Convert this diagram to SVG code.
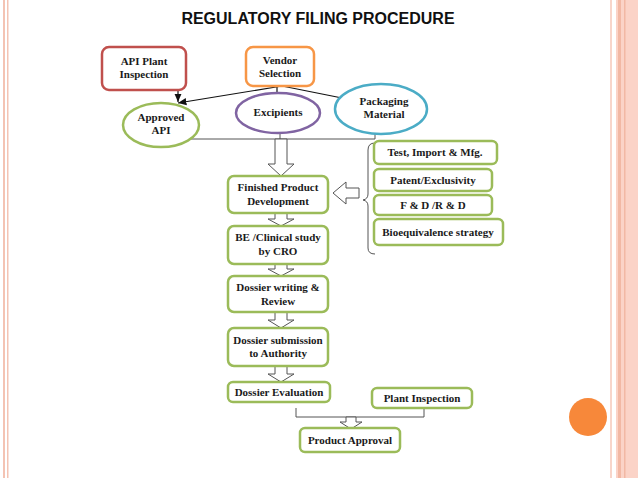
<svg xmlns="http://www.w3.org/2000/svg" width="638" height="478" viewBox="0 0 638 478">
<style>
.t{font-family:"Liberation Serif",serif;font-weight:bold;font-size:11px;fill:#1a1a1a;text-anchor:middle}
.g{fill:#fff;stroke:#9bbb59;stroke-width:2.5}
.ba{fill:#fff;stroke:#555;stroke-width:1}
.ln{fill:none;stroke:#555;stroke-width:1}
.ar{fill:none;stroke:#111;stroke-width:1.2;marker-end:url(#ah)}
</style>
<defs><marker id="ah" markerWidth="8" markerHeight="8" refX="7" refY="4" orient="auto"><path d="M0,1 L7,4 L0,7z" fill="#111"/></marker></defs>
<rect width="638" height="478" fill="#fff"/>
<g id="frame">
<rect x="3" y="0" width="2" height="478" fill="#f4c3b3"/>
<rect x="7" y="0" width="1.5" height="478" fill="#f4c3b3"/>
<rect x="610" y="0" width="2" height="478" fill="#f8d5ca"/>
<rect x="616" y="0" width="22" height="478" fill="#fbd3c7"/>
<rect x="618" y="0" width="3" height="478" fill="#f2b8a4"/>
<rect x="624" y="0" width="1.5" height="478" fill="#f2b8a4"/>
<circle cx="588" cy="417" r="19" fill="#f7883a"/>
</g>
<text x="318" y="24" style="font-family:'Liberation Sans',sans-serif;font-weight:bold;font-size:16px;fill:#111;text-anchor:middle">REGULATORY FILING PROCEDURE</text>
<g id="connectors">
<path class="ln" d="M160,133 V139 H375 V127 M280,131 V139"/>
<path class="ar" d="M178,90 V102"/>
<path class="ar" d="M282,86 L178,103"/>
<path class="ar" d="M277,86 V101"/>
<path class="ar" d="M282,86 L372,104"/>
<path class="ba" d="M275,139 H287 V164 H294 L281,176 L268,164 H275Z"/>
<path class="ba" d="M275,213 H287 V219 H294 L281,226 L268,219 H275Z"/>
<path class="ba" d="M275,264 H287 V269 H294 L281,276 L268,269 H275Z"/>
<path class="ba" d="M275,312 H287 V320 H294 L281,328 L268,320 H275Z"/>
<path class="ba" d="M275,366 H287 V374 H294 L281,382 L268,374 H275Z"/>
<path class="ba" d="M359,188 V198 H346 V204 L333,193 L346,182 V188Z"/>
<path class="ln" d="M375,143 Q368,143 368,150 V194 Q368,199 363,200 Q368,201 368,206 V248 Q368,254 375,254"/>
<path class="ln" d="M296,408 V417 H424 V408"/>
<path class="ba" d="M346,417 H356 V422 H362 L351,429 L340,422 H346Z"/>
</g>
<g id="api_plant"><rect x="102" y="47" width="84" height="43" rx="7" fill="#fff" stroke="#c0504d" stroke-width="2.5"/><text class="t" x="144" y="65">API Plant</text><text class="t" x="144" y="78">Inspection</text></g>
<g id="vendor"><rect x="246" y="47" width="68" height="39" rx="7" fill="#fff" stroke="#f79646" stroke-width="2.5"/><text class="t" x="280" y="64">Vendor</text><text class="t" x="280" y="77">Selection</text></g>
<g id="approved_api"><ellipse cx="161" cy="125" rx="38" ry="22" class="g"/><text class="t" x="161" y="121">Approved</text><text class="t" x="161" y="134">API</text></g>
<g id="excipients"><ellipse cx="278" cy="113" rx="42" ry="20" fill="#fff" stroke="#8064a2" stroke-width="2.5"/><text class="t" x="278" y="116">Excipients</text></g>
<g id="packaging"><ellipse cx="381" cy="109" rx="46" ry="25" fill="#fff" stroke="#4bacc6" stroke-width="2.5"/><text class="t" x="384" y="105">Packaging</text><text class="t" x="384" y="118">Material</text></g>
<g id="fpd"><rect x="228" y="176" width="100" height="37" rx="6" class="g"/><text class="t" x="278" y="191">Finished Product</text><text class="t" x="278" y="205">Development</text></g>
<g id="be"><rect x="228" y="226" width="100" height="38" rx="6" class="g"/><text class="t" x="278" y="241">BE /Clinical study</text><text class="t" x="278" y="255">by CRO</text></g>
<g id="dw"><rect x="228" y="276" width="100" height="36" rx="6" class="g"/><text class="t" x="278" y="291">Dossier writing &amp;</text><text class="t" x="278" y="305">Review</text></g>
<g id="ds"><rect x="228" y="328" width="100" height="38" rx="6" class="g"/><text class="t" x="278" y="344">Dossier submission</text><text class="t" x="278" y="357">to Authority</text></g>
<g id="de"><rect x="228" y="382" width="102" height="20" rx="5" class="g"/><text class="t" x="279" y="396">Dossier Evaluation</text></g>
<g id="pi"><rect x="372" y="388" width="100" height="20" rx="5" class="g"/><text class="t" x="422" y="402">Plant Inspection</text></g>
<g id="pa"><rect x="300" y="428" width="100" height="24" rx="5" class="g"/><text class="t" x="350" y="444">Product Approval</text></g>
<g id="test"><rect x="374" y="141" width="123" height="23" rx="5" class="g"/><text class="t" x="435" y="156">Test, Import &amp; Mfg.</text></g>
<g id="patent"><rect x="374" y="169" width="118" height="22" rx="5" class="g"/><text class="t" x="433" y="184">Patent/Exclusivity</text></g>
<g id="fd"><rect x="374" y="195" width="118" height="20" rx="5" class="g"/><text class="t" x="433" y="209">F &amp; D /R &amp; D</text></g>
<g id="bio"><rect x="374" y="219" width="129" height="26" rx="5" class="g"/><text class="t" x="438" y="236">Bioequivalence strategy</text></g>
</svg>
